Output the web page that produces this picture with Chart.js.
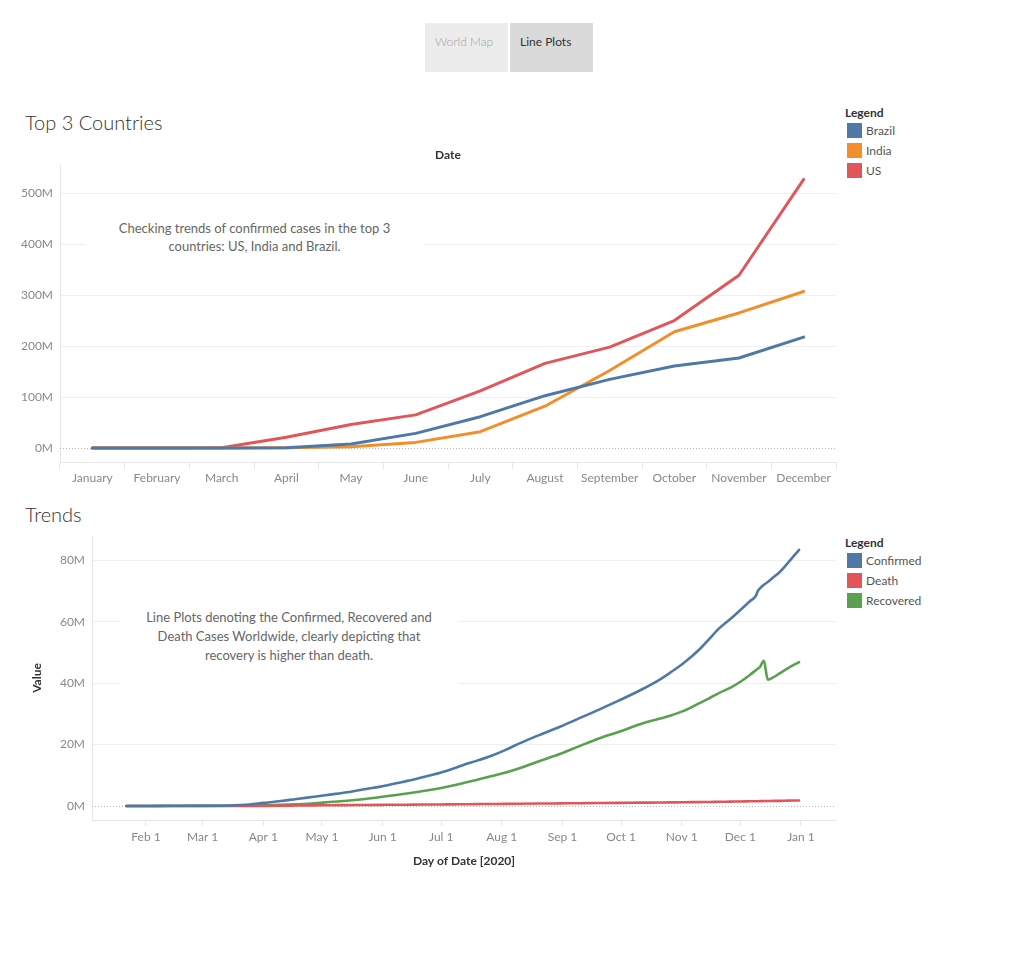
<!DOCTYPE html>
<html><head><meta charset="utf-8">
<script src="https://cdn.jsdelivr.net/npm/chart.js@4.4.1/dist/chart.umd.min.js"></script>
<style>
body{margin:0;background:#fff;font-family:Lato,sans-serif;width:1015px;height:963px;position:relative;overflow:hidden}
.btn{position:absolute;top:23px;height:49px;width:83px;font-size:12px;box-sizing:border-box;padding:12px 0 0 10px;line-height:14px}
.title{position:absolute;font-size:20px;color:#333;font-weight:300;line-height:24px}
.legend{position:absolute;left:845px;font-size:12px;color:#555}
.legend .hd{font-weight:bold;color:#333;height:14px;line-height:14px}
.legend .it{height:20px;display:flex;align-items:center}
.legend .sw{width:15px;height:15px;margin:0 4px 0 2px}
.note{position:absolute;background:#fff;color:#666;font-size:13px;text-align:center;box-sizing:border-box}
.cv{position:absolute;left:0}
</style></head>
<body>
<div class="btn" style="left:425px;background:#ececec;color:#a0a0a0;font-weight:300">World Map</div>
<div class="btn" style="left:510px;background:#dadada;color:#333">Line Plots</div>

<div class="title" style="left:25px;top:110px">Top 3 Countries</div>
<div class="title" style="left:25px;top:502px">Trends</div>

<div class="cv" style="top:140px;width:840px;height:360px"><canvas id="top" width="840" height="360"></canvas></div>
<div class="cv" style="top:530px;width:840px;height:350px"><canvas id="bot" width="840" height="350"></canvas></div>

<div class="note" style="left:86px;top:209px;width:337px;height:53px;padding-top:10px;line-height:18px">Checking trends of confirmed cases in the top 3<br>countries: US, India and Brazil.</div>
<div class="note" style="left:120px;top:600px;width:338px;height:90px;padding-top:8px;line-height:19px">Line Plots denoting the Confirmed, Recovered and<br>Death Cases Worldwide, clearly depicting that<br>recovery is higher than death.</div>

<div class="legend" style="top:106px">
  <div class="hd">Legend</div>
  <div class="it"><div class="sw" style="background:#4e79a7"></div>Brazil</div>
  <div class="it"><div class="sw" style="background:#f28e2b"></div>India</div>
  <div class="it"><div class="sw" style="background:#e15759"></div>US</div>
</div>
<div class="legend" style="top:536px">
  <div class="hd">Legend</div>
  <div class="it"><div class="sw" style="background:#4e79a7"></div>Confirmed</div>
  <div class="it"><div class="sw" style="background:#e15759"></div>Death</div>
  <div class="it"><div class="sw" style="background:#59a14f"></div>Recovered</div>
</div>

<script>
// ---------- Top chart data (millions) ----------
const months = ['January','February','March','April','May','June','July','August','September','October','November','December'];
const brazil = [0, 0, 0.05, 0.6, 8, 28.7, 61.4, 102.6, 134.6, 160.8, 176.5, 217.6];
const india  = [0, 0, 0.02, 0.3, 2.6, 11, 32, 82, 152, 228, 265, 307];
const us     = [0, 0.1, 0.3, 21, 46, 65, 112, 166, 198, 250, 339, 527];
const topYTicks = [0, 100, 200, 300, 400, 500];

// ---------- Bottom chart data (day of 2020, millions) ----------
const days = [21,31,45,60,74,84,91,100,108,117,125,134,142,151,159,168,176,185,193,200,207,215,222,232,243,253,263,273,284,294,299,306,314,319,324,330,335,340,343,344,345,347,349,352,355,359,365];
const confirmed = [0.0006,0.012,0.07,0.09,0.17,0.5,1.0,1.6,2.3,3.0,3.7,4.5,5.4,6.3,7.4,8.6,9.9,11.5,13.3,14.7,16.2,18.3,20.4,23.1,25.9,28.7,31.5,34.4,37.8,41.3,43.4,46.6,51.0,54.4,57.8,61.0,63.9,66.8,68.6,70.2,70.9,72.1,73.0,74.6,76.2,79.0,83.5];
const recovered = [0,0.0003,0.005,0.04,0.08,0.12,0.2,0.35,0.55,0.85,1.3,1.7,2.2,2.9,3.6,4.4,5.2,6.3,7.4,8.5,9.6,10.9,12.3,14.6,17.0,19.6,22.1,24.2,26.7,28.5,29.4,31.0,33.5,35.1,36.8,38.6,40.5,42.8,44.3,44.8,45.3,47.3,41.2,42.0,43.2,44.8,46.9];
const deaths = [0,0.0003,0.002,0.003,0.006,0.02,0.05,0.1,0.15,0.2,0.25,0.29,0.33,0.37,0.4,0.44,0.48,0.53,0.57,0.61,0.65,0.69,0.74,0.8,0.85,0.91,0.97,1.02,1.08,1.13,1.16,1.2,1.27,1.31,1.36,1.42,1.47,1.52,1.55,1.56,1.57,1.6,1.62,1.65,1.68,1.73,1.8];
const monthTickDays = [31,60,91,121,152,182,213,244,274,305,335,366];
const monthTickLabels = ['Feb 1','Mar 1','Apr 1','May 1','Jun 1','Jul 1','Aug 1','Sep 1','Oct 1','Nov 1','Dec 1','Jan 1'];
const botYTicks = [0, 20, 40, 60, 80];

const C_BLUE='#4e79a7', C_ORANGE='#f28e2b', C_RED='#e15759', C_GREEN='#59a14f';

const zeroLine = {
  id:'zeroLine',
  beforeDatasetsDraw(chart){
    const {ctx, chartArea:a, scales:{y}} = chart;
    const py = Math.round(y.getPixelForValue(0)) + 0.5;
    ctx.save();
    ctx.strokeStyle = '#b5b5b5'; ctx.lineWidth = 1; ctx.setLineDash([1,2]);
    ctx.beginPath(); ctx.moveTo(a.left, py); ctx.lineTo(a.right, py); ctx.stroke();
    ctx.restore();
  }
};

function build(){
  Chart.defaults.font.family = 'Lato, sans-serif';
  Chart.defaults.font.size = 12;

  const gridColor = c => (c.tick && c.tick.value === 0) ? 'rgba(0,0,0,0)' : '#efefef';
  const yFit = w => s => { s.width = w; s.paddingTop = 0; s.paddingBottom = 0; };

  new Chart(document.getElementById('top'), {
    type:'line',
    data:{
      labels: months,
      datasets:[
        {label:'Brazil', data:brazil, borderColor:C_BLUE, backgroundColor:C_BLUE},
        {label:'India', data:india, borderColor:C_ORANGE, backgroundColor:C_ORANGE},
        {label:'US', data:us, borderColor:C_RED, backgroundColor:C_RED}
      ]
    },
    options:{
      responsive:false, animation:false, devicePixelRatio:1,
      elements:{line:{borderWidth:3, tension:0, borderCapStyle:'round', borderJoinStyle:'round'}, point:{radius:0, hoverRadius:0}},
      layout:{padding:{top:0, right:4, left:0, bottom:0}},
      plugins:{
        legend:{display:false}, tooltip:{enabled:false},
        title:{display:true, text:'Date', fullSize:false, color:'#333', font:{size:12, weight:'bold'}, padding:{top:8, bottom:3}}
      },
      scales:{
        x:{type:'category', offset:true,
           grid:{offset:true, drawOnChartArea:false, tickLength:7, color:'#e6e6e6'},
           border:{color:'#e6e6e6'},
           ticks:{color:'#888', padding:2, maxRotation:0, autoSkip:false},
           afterFit:s=>{s.height=38;}},
        y:{min:-27.5, max:554.5,
           afterBuildTicks:s=>{s.ticks = topYTicks.map(v=>({value:v}));},
           afterFit:yFit(60),
           ticks:{color:'#888', padding:7, callback:v=>v+'M'},
           grid:{drawTicks:false, color:gridColor},
           border:{display:true, color:'#e6e6e6'}}
      }
    },
    plugins:[zeroLine]
  });

  const pts = arr => days.map((d,i)=>({x:d, y:arr[i]}));
  new Chart(document.getElementById('bot'), {
    type:'line',
    data:{
      datasets:[
        {label:'Confirmed', data:pts(confirmed), borderColor:C_BLUE, backgroundColor:C_BLUE},
        {label:'Death', data:pts(deaths), borderColor:C_RED, backgroundColor:C_RED},
        {label:'Recovered', data:pts(recovered), borderColor:C_GREEN, backgroundColor:C_GREEN}
      ]
    },
    options:{
      responsive:false, animation:false, devicePixelRatio:1, parsing:false,
      elements:{line:{borderWidth:2.6, cubicInterpolationMode:'monotone', borderCapStyle:'round', borderJoinStyle:'round'}, point:{radius:0, hoverRadius:0}},
      layout:{padding:{top:6, right:4, left:0, bottom:0}},
      plugins:{legend:{display:false}, tooltip:{enabled:false}},
      scales:{
        x:{type:'linear', min:3.4, max:383.9,
           afterBuildTicks:s=>{s.ticks = monthTickDays.map(v=>({value:v}));},
           afterFit:s=>{s.height=60;},
           ticks:{color:'#888', padding:4, maxRotation:0, autoSkip:false, callback:(v,i)=>monthTickLabels[i]},
           grid:{drawOnChartArea:false, tickLength:6, color:'#e6e6e6'},
           border:{color:'#e6e6e6'},
           title:{display:true, text:'Day of Date [2020]', color:'#333', font:{size:12, weight:'bold'}, padding:{top:0, bottom:12}}},
        y:{min:-4.57, max:88.0,
           afterBuildTicks:s=>{s.ticks = botYTicks.map(v=>({value:v}));},
           afterFit:yFit(92),
           ticks:{color:'#888', padding:7, callback:v=>v+'M'},
           grid:{drawTicks:false, color:gridColor},
           border:{display:true, color:'#e6e6e6'},
           title:{display:true, text:'Value', color:'#333', font:{size:12, weight:'bold'}, padding:{top:30, bottom:0}}}
      }
    },
    plugins:[zeroLine]
  });
}

if (document.fonts && document.fonts.load) {
  Promise.all([document.fonts.load('12px Lato'), document.fonts.load('bold 12px Lato'), document.fonts.load('300 20px Lato')])
    .then(build, build);
} else { build(); }
</script>
</body></html>
